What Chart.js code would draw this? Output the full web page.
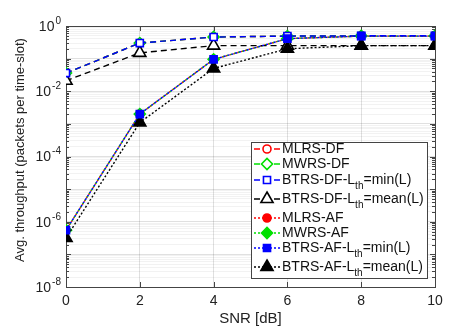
<!DOCTYPE html>
<html>
<head>
<meta charset="utf-8">
<script src="https://cdn.jsdelivr.net/npm/chart.js@4.4.1/dist/chart.umd.min.js"></script>
<style>
  html, body { margin: 0; padding: 0; background: #fff; }
  #wrap { width: 474px; height: 334px; position: relative; }
</style>
</head>
<body>
<div id="wrap"><canvas id="grafico"></canvas></div>
<script>
// Dados (SNR em dB, vazão média em pacotes por slot)
const snr = [0, 2, 4, 6, 8, 10];
const mlrsDF = [0.036, 0.30, 0.46, 0.49, 0.50, 0.50];
const mwrsDF = [0.036, 0.30, 0.46, 0.49, 0.50, 0.50];
const btrsDFmin = [0.036, 0.30, 0.46, 0.49, 0.50, 0.50];
const btrsDFmean = [0.021, 0.15, 0.25, 0.25, 0.25, 0.25];
const mlrsAF = [5.5e-7, 2.0e-3, 0.095, 0.41, 0.49, 0.49];
const mwrsAF = [5.5e-7, 2.0e-3, 0.095, 0.41, 0.49, 0.49];
const btrsAFmin = [5.5e-7, 2.0e-3, 0.095, 0.41, 0.49, 0.49];
const btrsAFmean = [3.2e-7, 1.1e-3, 0.05, 0.20, 0.25, 0.25];

const rotulos = [
  "MLRS-DF", "MWRS-DF", "BTRS-DF-L_th=min(L)", "BTRS-DF-L_th=mean(L)",
  "MLRS-AF", "MWRS-AF", "BTRS-AF-L_th=min(L)", "BTRS-AF-L_th=mean(L)"
];
const expoentesY = [0, -2, -4, -6, -8];
const ticksX = [0, 2, 4, 6, 8, 10];
const tituloY = "Avg. throughput (packets per time-slot)";
const tituloX = "SNR [dB]";

const FONTE = "'Liberation Sans', Arial, Helvetica, sans-serif";
const tracejado = [6, 4];
const pontilhado = [2, 2];

function serie(label, data, cor, estilo, raio, preenchido, dash, ordem, offset) {
  return {
    label, data, order: ordem,
    borderColor: cor, borderWidth: 1.4, borderDash: dash, borderDashOffset: offset || 0,
    pointStyle: estilo, pointRadius: raio, pointHoverRadius: raio,
    pointBorderColor: cor, pointBorderWidth: 1.6,
    pointBackgroundColor: preenchido ? cor : "#fff",
    tension: 0, fill: false
  };
}

const datasets = [
  serie(rotulos[0], mlrsDF, "red", "circle", 4, false, tracejado, 7),
  serie(rotulos[1], mwrsDF, "#00e000", "rectRot", 5.5, false, tracejado, 6),
  serie(rotulos[2], btrsDFmin, "blue", "rect", 5, false, tracejado, 1),
  serie(rotulos[3], btrsDFmean, "black", "triangle", 7, false, tracejado, 3),
  serie(rotulos[4], mlrsAF, "red", "circle", 4, true, pontilhado, 5, 2),
  serie(rotulos[5], mwrsAF, "#00e000", "rectRot", 5.5, true, pontilhado, 4, 1),
  serie(rotulos[6], btrsAFmin, "blue", "rect", 5, true, pontilhado, 0),
  serie(rotulos[7], btrsAFmean, "black", "triangle", 7, true, pontilhado, 2)
];

// Rótulo com subscrito "th"
function desenharRotulo(ctx, texto, x, y) {
  const partes = texto.split("_th");
  ctx.font = "14px " + FONTE;
  ctx.textBaseline = "middle";
  ctx.textAlign = "left";
  ctx.fillStyle = "#111";
  ctx.fillText(partes[0], x, y);
  if (partes.length < 2) return;
  let cx = x + ctx.measureText(partes[0]).width;
  ctx.font = "10px " + FONTE;
  ctx.fillText("th", cx, y + 6);
  cx += ctx.measureText("th").width;
  ctx.font = "14px " + FONTE;
  ctx.fillText(partes[1], cx, y);
}

const moldura = {
  id: "moldura",
  beforeDatasetsDraw(chart) {
    const { ctx, chartArea: a } = chart;
    const y = chart.scales.y;
    const x = chart.scales.x;
    ctx.save();
    ctx.strokeStyle = "#444";
    ctx.lineWidth = 1;
    // marcas internas nas laterais
    y.ticks.forEach((t) => {
      const py = Math.round(y.getPixelForValue(t.value)) + 0.5;
      const m = Math.log10(t.value);
      const len = Math.abs(m - Math.round(m)) < 1e-9 ? 5 : 3;
      ctx.beginPath();
      ctx.moveTo(a.left, py); ctx.lineTo(a.left + len, py);
      ctx.moveTo(a.right, py); ctx.lineTo(a.right - len, py);
      ctx.stroke();
    });
    ticksX.forEach((v) => {
      const px = Math.round(x.getPixelForValue(v)) + 0.5;
      ctx.beginPath();
      ctx.moveTo(px, a.bottom); ctx.lineTo(px, a.bottom - 5);
      ctx.moveTo(px, a.top); ctx.lineTo(px, a.top + 5);
      ctx.stroke();
    });
    ctx.strokeRect(Math.round(a.left) + 0.5, Math.round(a.top) + 0.5, Math.round(a.right - a.left), Math.round(a.bottom - a.top));
    ctx.restore();
  },
  afterDraw(chart) {
    const { ctx, chartArea: a } = chart;
    const y = chart.scales.y;
    ctx.save();
    // rótulos 10^n do eixo y
    expoentesY.forEach((e) => {
      const py = y.getPixelForValue(Math.pow(10, e));
      ctx.fillStyle = "#222";
      ctx.textBaseline = "middle";
      ctx.font = "10px " + FONTE;
      const exp = String(e);
      const we = ctx.measureText(exp).width;
      ctx.textAlign = "left";
      ctx.fillText(exp, a.left - 5 - we, py - 5);
      ctx.font = "14px " + FONTE;
      ctx.textAlign = "right";
      ctx.fillText("10", a.left - 6 - we, py + 1);
    });
    // título do eixo y
    ctx.translate(20, 150);
    ctx.rotate(-Math.PI / 2);
    ctx.font = "13px " + FONTE;
    ctx.textAlign = "center";
    ctx.textBaseline = "middle";
    ctx.fillStyle = "#222";
    ctx.fillText(tituloY, 0, 0);
    ctx.restore();

    // legenda dentro da área
    const bw = 176, bh = 136;
    const bx = a.right - 8 - bw, by = a.bottom - 9 - bh;
    ctx.save();
    ctx.fillStyle = "#fff";
    ctx.fillRect(bx, by, bw, bh);
    ctx.strokeStyle = "#444";
    ctx.lineWidth = 1;
    ctx.strokeRect(Math.round(bx) + 0.5, Math.round(by) + 0.5, bw, bh);
    const linhas = [7, 22, 38, 57, 76, 91, 106, 125];
    chart.data.datasets.forEach((ds, i) => {
      const ly = by + linhas[i];
      ctx.save();
      ctx.strokeStyle = ds.borderColor;
      ctx.lineWidth = ds.borderWidth;
      ctx.setLineDash(ds.borderDash);
      ctx.beginPath();
      ctx.moveTo(bx + 3, ly); ctx.lineTo(bx + 29, ly);
      ctx.stroke();
      ctx.setLineDash([]);
      ctx.fillStyle = ds.pointBackgroundColor;
      ctx.strokeStyle = ds.pointBorderColor;
      ctx.lineWidth = ds.pointBorderWidth;
      Chart.helpers.drawPoint(ctx, { pointStyle: ds.pointStyle, radius: ds.pointRadius, borderWidth: ds.pointBorderWidth, rotation: 0 }, bx + 16, ly);
      ctx.restore();
      desenharRotulo(ctx, ds.label, bx + 31, ly);
    });
    ctx.restore();
  }
};

new Chart(document.getElementById("grafico"), {
  type: "line",
  data: { labels: snr, datasets: datasets.map((d) => ({ ...d, data: d.data.map((v, i) => ({ x: snr[i], y: v })) })) },
  options: {
    responsive: true,
    maintainAspectRatio: false,
    animation: false,
    events: [],
    layout: { padding: { top: 26, right: 39, left: 0, bottom: 0 } },
    plugins: { legend: { display: false }, tooltip: { enabled: false } },
    scales: {
      x: {
        type: "linear", min: 0, max: 10,
        afterBuildTicks: (s) => { s.ticks = ticksX.map((v) => ({ value: v })); },
        afterFit: (s) => { s.height = 47; },
        grid: { color: "rgba(0,0,0,0.12)", drawTicks: false },
        border: { display: false },
        ticks: { color: "#222", font: { size: 14, family: FONTE }, padding: 6, maxRotation: 0 },
        title: { display: true, text: tituloX, color: "#222", font: { size: 15, family: FONTE }, padding: { top: 0, bottom: 6 } }
      },
      y: {
        type: "logarithmic", min: 1e-8, max: 1,
        afterBuildTicks: (s) => {
          const t = [];
          for (let k = -8; k <= 0; k++) {
            for (let m = 1; m <= 9; m++) {
              const v = m * Math.pow(10, k);
              if (v <= 1) t.push({ value: v });
            }
          }
          s.ticks = t;
        },
        afterFit: (s) => { s.width = 66; },
        grid: {
          drawTicks: false,
          color: (c) => {
            const m = Math.log10(c.tick.value);
            return Math.abs(m - Math.round(m)) < 1e-9 ? "rgba(0,0,0,0.12)" : "rgba(0,0,0,0.05)";
          }
        },
        border: { display: false },
        ticks: { display: false }
      }
    }
  },
  plugins: [moldura]
});
</script>
</body>
</html>
